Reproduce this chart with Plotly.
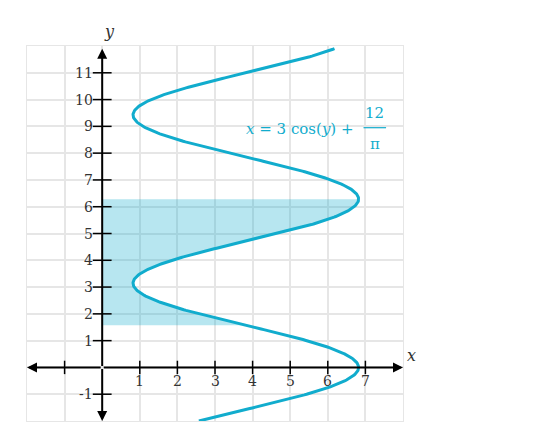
import numpy as np
import plotly.graph_objects as go

amplitude = 3.0
offset = 12/np.pi
y_range = [-2.0, 11.9]
shade_y = [np.pi/2, 2*np.pi]
x_ticks = [1, 2, 3, 4, 5, 6, 7]
y_ticks = [-1, 1, 2, 3, 4, 5, 6, 7, 8, 9, 10, 11]

col = "#11accd"
ys = np.linspace(y_range[0], y_range[1], 600)
xs = amplitude*np.cos(ys) + offset
ysh = np.linspace(shade_y[0], shade_y[1], 300)
xsh = amplitude*np.cos(ysh) + offset

fig = go.Figure()
fig.add_trace(go.Scatter(x=np.concatenate([[0, 0], xsh[::-1]]),
                         y=np.concatenate([[shade_y[0], shade_y[1]], ysh[::-1]]),
                         fill="toself", fillcolor="rgba(17,172,205,0.3)",
                         line=dict(width=0), mode="lines", hoverinfo="skip"))
fig.add_trace(go.Scatter(x=xs, y=ys, mode="lines", line=dict(color=col, width=3), hoverinfo="skip"))

font = dict(family="DejaVu Serif", size=14, color="#333")
ann = []
shapes = []
for t in x_ticks:
    ann.append(dict(x=t, y=-0.15, text=str(t), showarrow=False, yanchor="top", font=font))
    shapes.append(dict(type="line", x0=t, x1=t, y0=-0.25, y1=0.25, line=dict(color="black", width=1.5)))
shapes.append(dict(type="line", x0=-1, x1=-1, y0=-0.25, y1=0.25, line=dict(color="black", width=1.5)))
for t in y_ticks:
    ann.append(dict(x=-0.2, y=t, text=str(t), showarrow=False, xanchor="right", font=font))
    shapes.append(dict(type="line", x0=-0.25, x1=0.25, y0=t, y1=t, line=dict(color="black", width=1.5)))
for (x0, y0, x1, y1) in [(0, 0, 8, 0), (0, 0, -2, 0), (0, 0, 0, 11.9), (0, 0, 0, -2)]:
    ann.append(dict(x=x1, y=y1, ax=x0, ay=y0, xref="x", yref="y", axref="x", ayref="y",
                    showarrow=True, arrowhead=2, arrowsize=1, arrowwidth=2, arrowcolor="black", text=""))
ann.append(dict(x=1.04, y=2/14, xref="paper", yref="paper", text="<i>x</i>", showarrow=False,
                font=dict(family="DejaVu Serif", size=16, color="#333")))
ann.append(dict(x=0.2, y=1.07, xref="paper", yref="paper", text="<i>y</i>", showarrow=False,
                font=dict(family="DejaVu Serif", size=16, color="#333")))
lblfont = dict(family="DejaVu Serif", size=15, color=col)
ann.append(dict(x=6.75, y=8.9, text="<i>x</i> = 3 cos(<i>y</i>) +", showarrow=False, xanchor="right", font=lblfont))
ann.append(dict(x=7.25, y=9.5, text="12", showarrow=False, font=lblfont))
ann.append(dict(x=7.25, y=8.35, text="π", showarrow=False, font=lblfont))
shapes.append(dict(type="line", x0=6.95, x1=7.55, y0=8.95, y1=8.95, line=dict(color=col, width=1.2)))

fig.update_layout(width=559, height=445, margin=dict(l=19, r=164, t=38, b=32),
                  plot_bgcolor="white", paper_bgcolor="white", showlegend=False,
                  annotations=ann, shapes=shapes,
                  xaxis=dict(range=[-2, 8], dtick=1, tick0=0, showgrid=True, gridcolor="#e6e6e6",
                             gridwidth=1.5, zeroline=False, showticklabels=False, fixedrange=True,
                             showline=True, linecolor="#e6e6e6", mirror=True),
                  yaxis=dict(range=[-2, 12], dtick=1, tick0=0, showgrid=True, gridcolor="#e6e6e6",
                             gridwidth=1.5, zeroline=False, showticklabels=False, fixedrange=True,
                             showline=True, linecolor="#e6e6e6", mirror=True))
fig.write_html("out.html")
